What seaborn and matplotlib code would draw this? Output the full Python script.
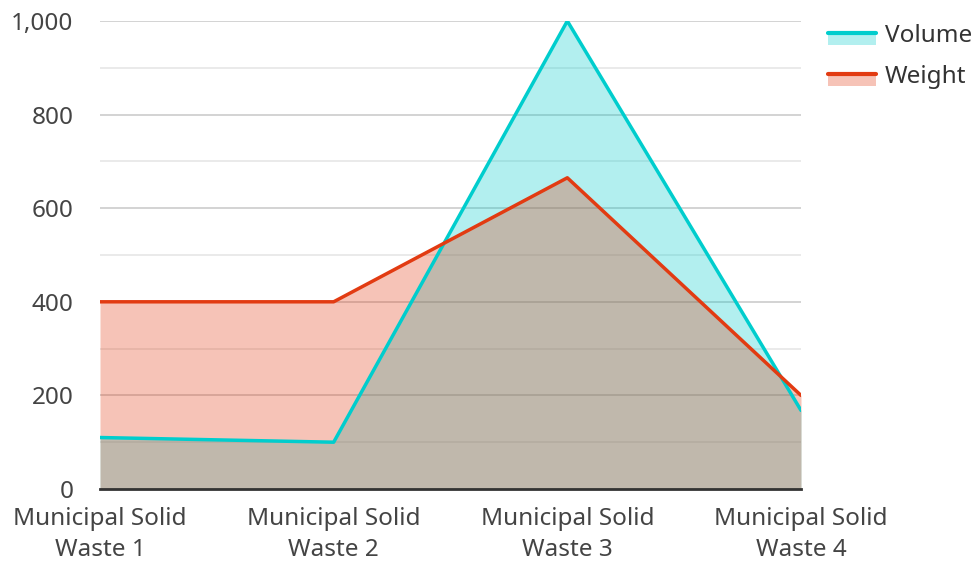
import matplotlib
matplotlib.use("Agg")
import matplotlib.pyplot as plt
import seaborn as sns
import pandas as pd
import numpy as np
from matplotlib.legend_handler import HandlerBase
from matplotlib.patches import Rectangle
from matplotlib.lines import Line2D

categories = ["Municipal Solid\nWaste 1", "Municipal Solid\nWaste 2",
              "Municipal Solid\nWaste 3", "Municipal Solid\nWaste 4"]
volume = [110, 100, 1000, 168]
weight = [400, 400, 665, 200]
series_names = ["Volume", "Weight"]
colors = ["#00CDCD", "#E23B12"]
y_ticks = [0, 200, 400, 600, 800, 1000]

sns.set_theme(style="white")
plt.rcParams['font.family'] = ['Noto Sans', 'DejaVu Sans']

fig = plt.figure(figsize=(9.75, 5.61), dpi=100)
ax = fig.add_axes([100/975, 1-489/561, 701/975, 468/561])

x = np.arange(len(categories))
df = pd.DataFrame({"x": np.concatenate([x, x]),
                   "value": volume + weight,
                   "series": [series_names[0]]*len(x) + [series_names[1]]*len(x)})

for name, col in zip(series_names, colors):
    sub = df[df.series == name]
    ax.fill_between(sub.x, 0, sub.value, color=col, alpha=0.3, linewidth=0, zorder=2)

sns.lineplot(data=df, x="x", y="value", hue="series", palette=colors,
             linewidth=2.5, ax=ax, legend=False, zorder=3)

ax.set_xlim(0, 3)
ax.set_ylim(0, 1000)
ax.set_yticks(y_ticks)
ax.set_yticklabels([f"{v:,}" for v in y_ticks])
ax.set_yticks([100, 300, 500, 700, 900], minor=True)
ax.set_xticks(x)
ax.set_xticklabels(categories, linespacing=1.4)
ax.grid(axis="y", which="major", color="#cccccc", linewidth=1.2, zorder=0)
ax.grid(axis="y", which="minor", color="#e6e6e6", linewidth=1.2, zorder=0)
ax.grid(axis="x", visible=False)
ax.set_axisbelow(True)
for s in ["left", "right", "top"]:
    ax.spines[s].set_visible(False)
ax.spines["bottom"].set_color("#333333")
ax.spines["bottom"].set_linewidth(2)
ax.spines["bottom"].set_zorder(5)
ax.tick_params(axis="both", which="both", length=0, labelsize=17.5, labelcolor="#444444")
ax.tick_params(axis="y", pad=19)
ax.tick_params(axis="x", pad=13)
ax.set_xlabel("")
ax.set_ylabel("")


class AreaHandler(HandlerBase):
    def __init__(self, color):
        super().__init__()
        self.color = color

    def create_artists(self, legend, orig_handle, xdescent, ydescent, width, height, fontsize, trans):
        rect = Rectangle((-xdescent, -ydescent - height*0.15), width, height*0.65, facecolor=self.color,
                         alpha=0.3, edgecolor="none", transform=trans)
        line = Line2D([-xdescent, -xdescent + width], [-ydescent + height*0.5]*2,
                      color=self.color, linewidth=3, transform=trans)
        return [rect, line]


handles = [Line2D([], [], color=c) for c in colors]
leg = fig.legend(handles, series_names, loc="upper left", bbox_to_anchor=(818/975, 1-14/561),
                 frameon=False, fontsize=17.5, handlelength=2.0, handleheight=0.8,
                 handletextpad=0.35, labelspacing=0.7, borderaxespad=0, borderpad=0.4,
                 handler_map={handles[0]: AreaHandler(colors[0]), handles[1]: AreaHandler(colors[1])})
for t in leg.get_texts():
    t.set_color("#333333")

fig.savefig("out.png", dpi=100)
